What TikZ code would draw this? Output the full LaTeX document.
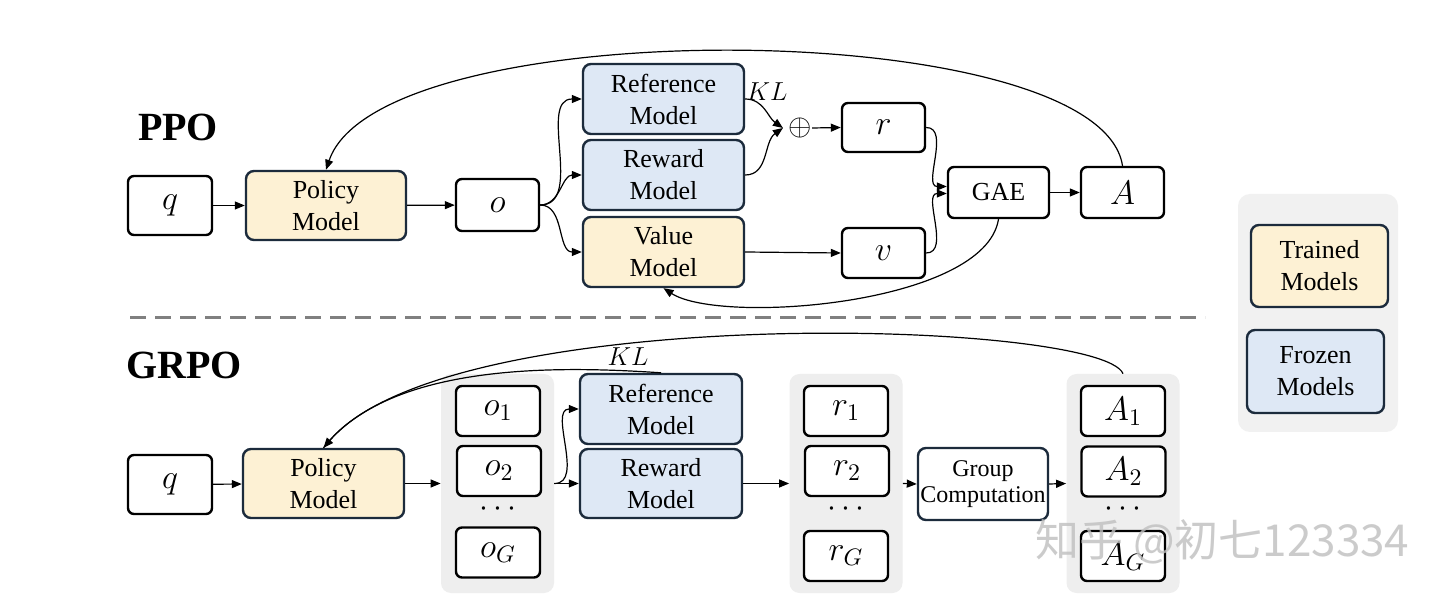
\RequirePackage{fix-cm}
\documentclass[tikz,border=0pt]{standalone}
\usepackage{fontspec}
\setmainfont{Liberation Serif}
\newfontfamily\cjk{Noto Sans CJK SC}
\usetikzlibrary{arrows.meta,calc}
\definecolor{navy}{HTML}{1C2B3C}
\definecolor{trainedfill}{HTML}{FDF1D4}
\definecolor{frozenfill}{HTML}{DEE8F5}
\definecolor{groupgray}{HTML}{EEEEEE}
\definecolor{leggray}{HTML}{F1F1F1}
\definecolor{dashgray}{HTML}{808080}
\tikzset{
  every node/.style={font=\fontsize{13}{16}\selectfont, inner sep=0pt},
  mbox/.style={draw=navy, line width=1.2pt, rounded corners=4pt, align=center},
  trained/.style={mbox, fill=trainedfill},
  frozen/.style={mbox, fill=frozenfill},
  vbox/.style={draw=black, line width=1.2pt, rounded corners=3pt, fill=white,
    font=\fontsize{17}{20}\selectfont, minimum width=42pt, minimum height=25pt},
  grp/.style={fill=groupgray, rounded corners=5pt, minimum width=56.5pt, minimum height=109.5pt},
  msz/.style={minimum width=80.5pt, minimum height=35pt},
  arr/.style={line width=0.6pt, -{Triangle[length=5pt,width=4pt]}},
  ln/.style={line width=0.6pt},
  dotsn/.style={font=\fontsize{16}{16}\selectfont, text height=5.5pt, text depth=0pt},
}
\begin{document}
\begin{tikzpicture}[x=0.5pt,y=-0.5pt]
\fill[white] (0,0) rectangle (1440,598);
\useasboundingbox (0,0) rectangle (1440,598);

% titles
\node[font=\fontsize{20}{24}\selectfont\bfseries] (tppo) at (178,127) {PPO};
\node[font=\fontsize{20}{24}\selectfont\bfseries] (tgrpo) at (184,365) {GRPO};

% ---------------- PPO ----------------
\node[vbox, minimum height=29.5pt] (q1) at (170,205.5) {$q$};
\node[trained, minimum width=80pt, minimum height=34.5pt] (pol1) at (326,205.5) {Policy\\Model};
\node[vbox, minimum width=41.5pt, minimum height=26pt] (o) at (497.5,205) {$o$};
\node[frozen, msz] (ref1) at (663.5,99) {Reference\\Model};
\node[frozen, msz] (rew1) at (663.5,175) {Reward\\Model};
\node[trained, msz] (val1) at (663.5,252) {Value\\Model};
\node[font=\fontsize{15}{15}\selectfont] (plus) at (800,128) {$\oplus$};
\node (kl1) at (767,92) {$KL$};
\node[vbox, minimum width=41.5pt, minimum height=24.5pt] (r) at (883.5,127.5) {$r$};
\node[vbox, minimum width=41.5pt, minimum height=25pt] (v) at (883.5,253) {$v$};
\node[vbox, minimum width=50.5pt, minimum height=25.5pt, font=\fontsize{13}{16}\selectfont] (gae) at (998.5,192.5) {GAE};
\node[vbox, minimum width=41.5pt, minimum height=25.5pt] (A) at (1122.5,192.5) {$A$};

\draw[arr] (q1) -- (pol1);
\draw[arr] (pol1) -- (o);
\draw[arr] (o.east) to[out=0,in=180] (ref1.west);
\draw[arr] (o.east) to[out=0,in=180] (rew1.west);
\draw[arr] (o.east) to[out=0,in=180] (val1.west);
\draw[arr] (ref1.east) to[out=0,in=145] ($(plus.west)+(-5,0)$);
\draw[arr] (rew1.east) to[out=0,in=215] ($(plus.west)+(-5,0)$);
\draw[arr] (plus.east) -- (r.west);
\draw[arr] (r.east) to[out=0,in=180] ($(gae.west)+(0,-6)$);
\draw[arr] (v.east) to[out=0,in=180] ($(gae.west)+(0,1)$);
\draw[arr] (val1.east) -- (v.west);
\draw[arr] (gae) -- (A);
\draw[arr] (A.north) .. controls (1100,15) and (380,10) .. (pol1.north);
\draw[arr] (gae.south) .. controls (985,305) and (720,325) .. (val1.south);

% separator
\draw[dashgray, line width=1.5pt, dash pattern=on 8pt off 4.5pt] (130,318) -- (1205,318);

% ---------------- GRPO ----------------
\node[vbox, minimum height=29.5pt] (q2) at (170,484.5) {$q$};
\node[trained, minimum width=80.5pt, minimum height=34.5pt] (pol2) at (323.5,483.5) {Policy\\Model};

\node[grp] (og) at (497.5,483.5) {};
\node[vbox] (o1) at (498,411) {$o_1$};
\node[vbox] (o2) at (499,471) {$o_2$};
\node[dotsn] (od) at (498,511) {$\cdots$};
\node[vbox] (oG) at (498,552.5) {$o_G$};

\node[frozen, minimum width=81pt, minimum height=35pt] (ref2) at (661,409) {Reference\\Model};
\node[frozen, minimum width=81pt, minimum height=34.5pt] (rew2) at (661,483.5) {Reward\\Model};
\node (kl2) at (628,357) {$KL$};

\node[grp] (rg) at (846,483.5) {};
\node[vbox] (r1) at (846,411) {$r_1$};
\node[vbox] (r2) at (847,471) {$r_2$};
\node[dotsn] (rd) at (846,511) {$\cdots$};
\node[vbox] (rG) at (846,556) {$r_G$};

\node[mbox, fill=white, minimum width=65pt, minimum height=36pt, font=\fontsize{12}{13}\selectfont] (gc) at (983,484) {Group\\Computation};

\node[grp] (ag) at (1123,483.5) {};
\node[vbox] (A1) at (1123,411) {$A_1$};
\node[vbox] (A2) at (1123.5,471.5) {$A_2$};
\node[dotsn] (Ad) at (1123,511) {$\cdots$};
\node[vbox] (AG) at (1123,556) {$A_G$};

\draw[arr] (q2) -- (pol2);
\draw[arr] (pol2.east) -- (og.west);
\draw[arr] (og.east) to[out=0,in=180] (ref2.west);
\draw[arr] (og.east) -- (rew2.west);
\draw[arr] (rew2.east) -- (rg.west);
\draw[arr] (rg.east) -- (gc.west);
\draw[arr] (gc.east) -- (ag.west);
\draw[arr] (ag.north) .. controls (1100,320) and (450,300) .. (pol2.north);
\draw[ln] (ref2.north) .. controls (560,366) and (390,362) .. (pol2.north);

% ---------------- legend ----------------
\node[fill=leggray, rounded corners=6pt, minimum width=80pt, minimum height=119pt] (leg) at (1318,313) {};
\node[trained, minimum width=68.5pt, minimum height=41pt] (lt) at (1319.5,266) {Trained\\Models};
\node[frozen, minimum width=68.5pt, minimum height=41.5pt] (lf) at (1315.5,371.5) {Frozen\\Models};

% watermark
\node[font=\cjk\fontsize{22}{22}\selectfont, text=black!25, opacity=0.8, anchor=west,
      text height=16pt, text depth=2pt] (wm) at (1035,542) {知乎 @初七123334};
\end{tikzpicture}
\end{document}
